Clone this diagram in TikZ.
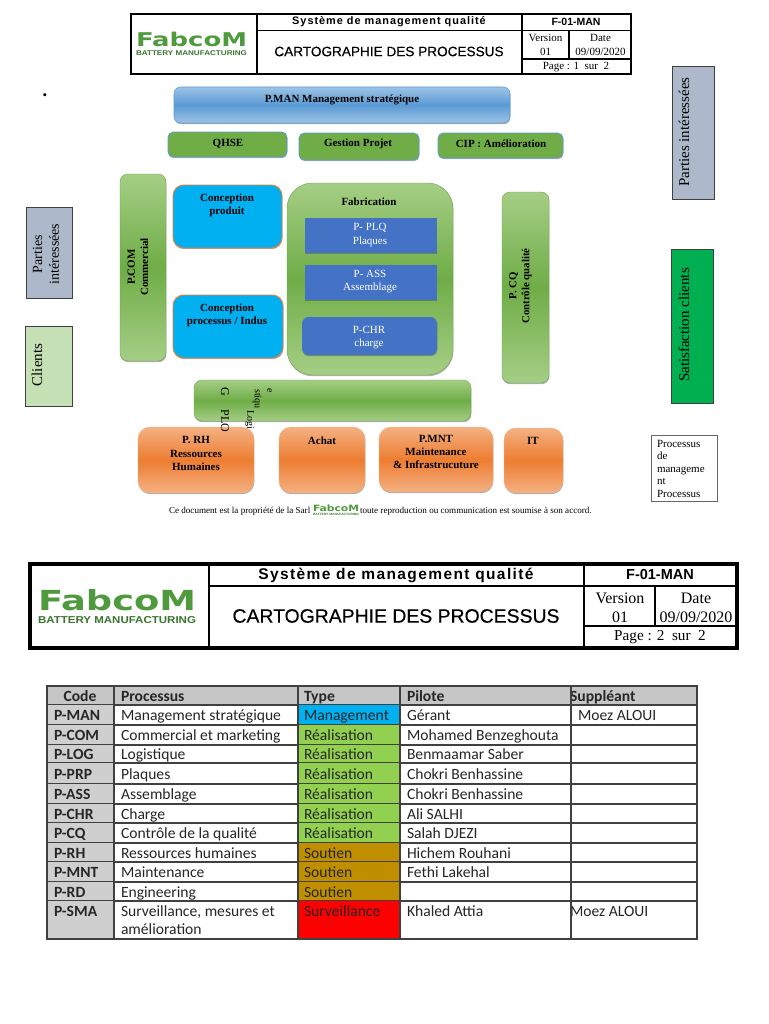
\documentclass[tikz,border=0pt]{standalone}
\usepackage{fontspec}
\setmainfont{Liberation Serif}
\newfontfamily\arialf{Liberation Sans}
\newfontfamily\arialsp[LetterSpace=9]{Liberation Sans}
\newfontfamily\arialfb[FakeBold=0.35]{Liberation Sans}
\newfontfamily\calib{Carlito}
\newfontfamily\logof{DejaVu Sans}
\usetikzlibrary{shadows}
\definecolor{logogreen}{HTML}{4F9A3C}
\newcommand{\px}[1]{\fontsize{\fpeval{#1*0.75}pt}{\fpeval{#1*0.9}pt}\selectfont}
\newcommand{\pbox}[6]{%
  \pgfmathsetmacro\bw{(#5-#3)*0.75}\pgfmathsetmacro\bh{(#6-#4)*0.75}%
  \node[#2,minimum width=\bw pt,minimum height=\bh pt] (#1) at ({(#3+#5)/2},{(#4+#6)/2}) {};}
\newcommand{\fablogo}[5]{%
  \pgfmathsetmacro\lw{(#3-#2)*0.75}\pgfmathsetmacro\lha{(#5-#4)*0.75*0.60}\pgfmathsetmacro\lhb{(#5-#4)*0.75*0.20}%
  \node[txt,text=logogreen,anchor=north west] (#1) at (#2,#4)
    {\resizebox{\lw pt}{\lha pt}{\logof\bfseries FabcoM}};
  \node[txt,text=logogreen!75!black,anchor=south west] (#1-sub) at (#2,#5)
    {\resizebox{\lw pt}{\lhb pt}{\arialf\bfseries BATTERY MANUFACTURING}};}
\newcommand{\trow}[9]{%
  \path[fill=gray!38] (47,#1) rectangle (114,#2);
  \path[fill=#6] (298,#1) rectangle (400,#2);
  \node[tcell,font=\calib\px{15.6}\bfseries] (c#9) at (54,{(#1+#2)/2+2}) {#3};
  \node[tcell] (p#9) at (121,{(#1+#2)/2+2}) {#4};
  \node[tcell] (t#9) at (304,{(#1+#2)/2+2}) {#5};
  \node[tcell] (g#9) at (407,{(#1+#2)/2+2}) {#7};
  \node[tcell] (s#9) at (#8,{(#1+#2)/2+2}) {\csname supp#9\endcsname};
  \draw[tline] (47,#2) -- (697,#2);}
\newcommand{\suppa}{Moez ALOUI}
\definecolor{gr1}{HTML}{A5CE85}
\definecolor{gr2}{HTML}{6FAD47}
\definecolor{or1}{HTML}{F4B183}
\definecolor{or2}{HTML}{ED7D31}
\definecolor{cy}{HTML}{00B0F0}
\definecolor{bl}{HTML}{4472C4}
\definecolor{bm}{HTML}{5B9BD5}
\definecolor{bt}{HTML}{9DC3E6}
\definecolor{gs}{HTML}{70AD47}
\definecolor{pi}{HTML}{ADB9CA}
\definecolor{cl}{HTML}{C5E0B4}
\definecolor{sa}{HTML}{00B050}
\definecolor{rg}{HTML}{92D050}
\definecolor{so}{HTML}{BF8F00}
\tikzset{
  txt/.style={inner sep=0pt,outer sep=0pt,align=center,text=black},
  btxt/.style={txt,font=\px{11}\bfseries},
  wtxt/.style={txt,text=white,font=\px{11}},
  frame/.style={draw=black,line width=2pt},
  thin/.style={draw=black,line width=1pt},
  shad/.style={drop shadow={shadow xshift=0.3pt,shadow yshift=-0.9pt,opacity=.45,fill=black!70}},
  blueg/.style={shape=rectangle,rounded corners=5pt,draw=bm,line width=.4pt,shad,top color=bt,bottom color=bt,middle color=bm},
  solidg/.style={shape=rectangle,rounded corners=4pt,draw=bm,line width=.6pt,shad,fill=gs},
  greeng/.style={shape=rectangle,rounded corners=6pt,draw=gr2!80!gray,line width=.3pt,shad,top color=gr1,bottom color=gr1,middle color=gr2},
  orangeg/.style={shape=rectangle,rounded corners=9pt,draw=or1,line width=.3pt,shad,top color=or1,bottom color=or1,middle color=or2},
  cyanb/.style={shape=rectangle,rounded corners=8pt,draw=or2,line width=.7pt,shad,fill=cy},
  blueb/.style={shape=rectangle,draw=none,shad,fill=bl},
  sidebox/.style={shape=rectangle,draw=black!75,line width=.7pt,drop shadow={shadow xshift=.5pt,shadow yshift=-.5pt,opacity=.25}},
  tcell/.style={inner sep=0pt,outer sep=0pt,anchor=west,font=\calib\px{15.6},text=black!85,text height=8pt,text depth=2.5pt},
  tline/.style={draw=black!75,line width=1.1pt},
}
\begin{document}
\begin{tikzpicture}[x=0.75pt,y=-0.75pt]
\useasboundingbox (0,0) rectangle (768,1024);
\path[fill=white] (0,0) rectangle (768,1024);

% ---- header 1
\draw[frame,fill=white] (131,14) rectangle (631,74);
\draw[thin] (257,14) -- (257,74) (522,14) -- (522,74) (257,30.5) -- (631,30.5)
  (569,30.5) -- (569,59) (522,59) -- (631,59);
\fablogo{logo1}{136}{247}{32}{56}
\node[txt,font=\arialsp\px{10.9}\bfseries] (h1a) at (389,22) {Système de management qualité};
\node[txt,font=\arialfb\px{13.6}] (h1b) at (389,51.5) {CARTOGRAPHIE DES PROCESSUS};
\node[txt,font=\arialf\px{10.5}\bfseries] (h1c) at (576,22) {F-01-MAN};
\node[txt,font=\px{11}] (h1d) at (545.5,45) {Version\\01};
\node[txt,font=\px{11}] (h1e) at (600.5,45) {Date\\09/09/2020};
\node[txt,font=\px{11}] (h1f) at (576,67) {Page : 1\ \ sur\ \ 2};

% ---- bullet
\node[txt,font=\px{13}] (bul) at (45,97) {•};

% ---- top boxes
\pbox{man}{blueg}{174}{87}{510}{123}
\node[btxt] (mant) at (342,99.5) {P.MAN Management stratégique};
\pbox{qhse}{solidg}{168}{132}{287}{157}
\node[btxt] (qhset) at (228,143.5) {QHSE};
\pbox{gest}{solidg}{299}{133}{419}{160}
\node[btxt] (gestt) at (358,143.5) {Gestion Projet};
\pbox{cip}{solidg}{438}{133}{563}{158}
\node[btxt] (cipt) at (501,143.5) {CIP : Amélioration};

% ---- left & middle
\pbox{com}{greeng}{120}{174}{166}{361}
\node[btxt,rotate=90] (comt) at (138,267) {P.COM\\Commercial};
\pbox{cp1}{cyanb}{173}{185}{282}{248}
\node[btxt] (cp1t) at (227,205.5) {Conception\\produit};
\pbox{cp2}{cyanb}{173}{295}{283}{358}
\node[btxt] (cp2t) at (227,315) {Conception\\processus / Indus};
\pbox{fab}{greeng,rounded corners=19pt}{287}{183}{453}{375}
\node[btxt] (fabt) at (369,202) {Fabrication};
\pbox{plq}{blueb}{305}{218}{437}{253}
\node[wtxt] (plqt) at (370,235) {P- PLQ\\Plaques};
\pbox{ass}{blueb}{305}{265}{437}{300}
\node[wtxt] (asst) at (370,281.5) {P- ASS\\Assemblage};
\pbox{chr}{blueb,rounded corners=5pt}{302}{317}{437}{355}
\node[wtxt] (chrt) at (369,337.5) {P-CHR\\charge};
\pbox{cq}{greeng}{502}{192}{549}{383}
\node[btxt,rotate=90,font=\px{10.8}\bfseries] (cqt) at (520.5,286) {P. CQ\\Contrôle qualité};

% ---- logistics band
\pbox{log}{greeng}{194}{380}{471}{421}

% ---- orange boxes
\pbox{rh}{orangeg}{138}{427}{254}{493}
\node[btxt] (rht) at (196,453.5) {P. RH\\Ressources\\Humaines};
\pbox{ach}{orangeg}{279}{427}{365}{493}
\node[btxt] (acht) at (322,440.5) {Achat};
\pbox{mnt}{orangeg}{379}{427}{493}{492}
\node[btxt] (mntt) at (436,452) {P.MNT\\Maintenance\\\& Infrastrucuture};
\pbox{it}{orangeg}{504}{428}{563}{493}
\node[btxt] (itt) at (533,440.5) {IT};

% ---- rotated logistics fragments
\node[txt,rotate=-90,font=\px{12}] (lg1) at (225,392) {G};
\node[txt,rotate=-90,font=\px{12}] (lg2) at (225,421) {PLO};
\node[txt,rotate=-90,font=\px{10}] (lg3) at (257,399) {stiqu};
\node[txt,rotate=-90,font=\px{10}] (lg4) at (249.5,420) {Logi};
\node[txt,rotate=-90,font=\px{10}] (lg5) at (269.5,391) {e};

% ---- footer
\node[txt,font=\px{9.1},anchor=west] (foot1) at (169,511) {Ce document est la propriété de la Sarl};
\fablogo{logo2}{313}{359}{505}{516}
\node[txt,font=\px{9.1},anchor=west] (foot2) at (360,511) {toute reproduction ou communication est soumise à son accord.};

% ---- side boxes
\pbox{pir}{sidebox,fill=pi}{672}{66}{714}{199}
\node[txt,rotate=90,font=\px{15}] (pirt) at (684,132) {Parties intéressées};
\pbox{sat}{sidebox,fill=sa}{671}{249}{713}{403}
\node[txt,rotate=90,font=\px{15}] (satt) at (684,325) {Satisfaction clients};
\pbox{pil}{sidebox,fill=pi}{26}{207}{72}{298}
\node[txt,rotate=90,font=\px{14}] (pilt) at (46,254) {Parties\\intéressées};
\pbox{cli}{sidebox,fill=cl}{25}{326}{72}{406}
\node[txt,rotate=90,font=\px{15}] (clit) at (37,365) {Clients};
\pbox{prc}{shape=rectangle,draw=black!60,line width=.7pt,fill=white}{651}{435}{717}{501}
\node[txt,align=left,anchor=north west,font=\px{11}] (prct) at (657,440)
  {Processus\\[-0.5pt]de\\[-0.5pt]manageme\\[-0.5pt]nt\\[-0.5pt]Processus};

% ---- header 2
\draw[frame,line width=2.6pt,fill=white] (30,564) rectangle (737,648);
\draw[thin,line width=1.3pt] (209,564) -- (209,648) (584,564) -- (584,648) (209,586) -- (737,586)
  (655,586) -- (655,626) (584,626) -- (737,626);
\fablogo{logo3}{38}{196}{589}{624}
\node[txt,font=\arialsp\px{15.5}\bfseries] (h2a) at (396,575) {Système de management qualité};
\node[txt,font=\arialfb\px{19.4}] (h2b) at (396,616) {CARTOGRAPHIE DES PROCESSUS};
\node[txt,font=\arialf\px{14.5}\bfseries] (h2c) at (660,575) {F-01-MAN};
\node[txt,font=\px{16}] (h2d) at (620,607.5) {Version\\01};
\node[txt,font=\px{16}] (h2e) at (696,607.5) {Date\\09/09/2020};
\node[txt,font=\px{15.2}] (h2f) at (660,637) {Page : 2\ \ sur\ \ 2};

% ---- table
\path[fill=gray!45] (47,686) rectangle (697,705);
\node[tcell,font=\calib\px{15.6}\bfseries,anchor=center] (hc) at (80,697.5) {Code};
\node[tcell,font=\calib\px{15.6}\bfseries] (hp) at (121,697.5) {Processus};
\node[tcell,font=\calib\px{15.6}\bfseries] (ht) at (304,697.5) {Type};
\node[tcell,font=\calib\px{15.6}\bfseries] (hg) at (407,697.5) {Pilote};
\node[tcell,font=\calib\px{15.6}\bfseries] (hs) at (570,697.5) {Suppléant};
\draw[tline] (47,705) -- (697,705);
\trow{705}{725}{P-MAN}{Management stratégique}{Management}{cy}{Gérant}{578}{a}
\trow{725}{745}{P-COM}{Commercial et marketing}{Réalisation}{rg}{Mohamed Benzeghouta}{578}{b}
\trow{745}{763}{P-LOG}{Logistique}{Réalisation}{rg}{Benmaamar Saber}{578}{c}
\trow{763}{784}{P-PRP}{Plaques}{Réalisation}{rg}{Chokri Benhassine}{578}{d}
\trow{784}{804}{P-ASS}{Assemblage}{Réalisation}{rg}{Chokri Benhassine}{578}{e}
\trow{804}{823}{P-CHR}{Charge}{Réalisation}{rg}{Ali SALHI}{578}{f}
\trow{823}{843}{P-CQ}{Contrôle de la qualité}{Réalisation}{rg}{Salah DJEZI}{578}{g}
\trow{843}{862}{P-RH}{Ressources humaines}{Soutien}{so}{Hichem Rouhani}{578}{h}
\trow{862}{882}{P-MNT}{Maintenance}{Soutien}{so}{Fethi Lakehal}{578}{i}
\trow{882}{901}{P-RD}{Engineering}{Soutien}{so}{}{578}{j}
\path[fill=gray!38] (47,901) rectangle (114,939);
\path[fill=red] (298,901) rectangle (400,939);
\node[tcell,font=\calib\px{15.6}\bfseries] (ck) at (54,913) {P-SMA};
\node[tcell] (pk) at (121,913) {Surveillance, mesures et};
\node[tcell] (pk2) at (121,931) {amélioration};
\node[tcell] (tk) at (304,913) {Surveillance};
\node[tcell] (gk) at (407,913) {Khaled Attia};
\node[tcell] (sk) at (570,913) {Moez ALOUI};
\draw[tline,line width=1.4pt] (47,686) rectangle (697,939);
\draw[tline] (114,686) -- (114,939) (298,686) -- (298,939) (400,686) -- (400,939) (571,686) -- (571,939);
\end{tikzpicture}
\end{document}
